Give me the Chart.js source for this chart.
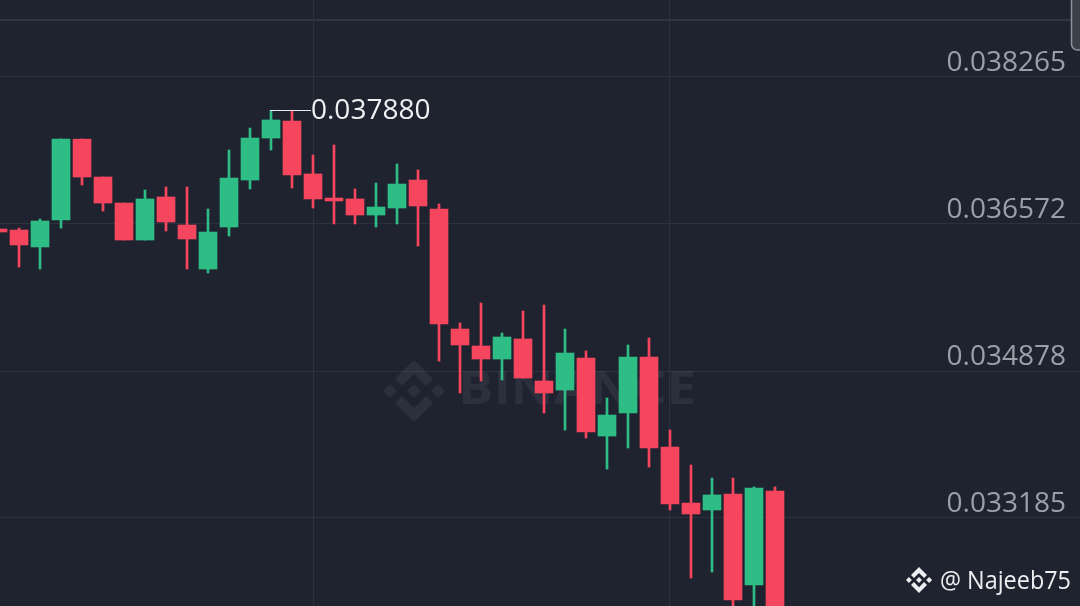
<!DOCTYPE html>
<html><head><meta charset="utf-8">
<script src="https://cdn.jsdelivr.net/npm/chart.js@4.4.1/dist/chart.umd.min.js"></script>
<style>html,body{margin:0;padding:0;background:#1f2330;}#wrap{width:1080px;height:606px;position:relative;}</style>
</head><body><div id="wrap"><canvas id="c"></canvas></div>
<script>
// ---- data ----
const candleIndex = [-1,0,1,2,3,4,5,6,7,8,9,10,11,12,13,14,15,16,17,18,19,20,21,22,23,24,25,26,27,28,29,30,31,32,33,34,35,36];
const openPrices  = [0.036514,0.036502,0.036307,0.036618,0.037549,0.037113,0.036813,0.036387,0.036883,0.036560,0.036053,0.036537,0.037078,0.037562,0.037758,0.037148,0.036871,0.036860,0.036675,0.036756,0.037078,0.036744,0.035362,0.035166,0.035016,0.035247,0.034763,0.034659,0.035028,0.034129,0.034394,0.035039,0.034003,0.033357,0.033277,0.033461,0.032413,0.033496];
const highPrices  = [0.036525,0.036525,0.036629,0.037551,0.037551,0.037113,0.036813,0.036963,0.036998,0.036998,0.036744,0.037424,0.037677,0.037880,0.037870,0.037366,0.037482,0.036975,0.037044,0.037263,0.037194,0.036802,0.035431,0.035661,0.035316,0.035569,0.035638,0.035362,0.035109,0.034567,0.035178,0.035258,0.034198,0.033795,0.033645,0.033645,0.033542,0.033542];
const lowPrices   = [0.036468,0.036076,0.036053,0.036525,0.037021,0.036721,0.036387,0.036387,0.036491,0.036053,0.036007,0.036433,0.036975,0.037424,0.036986,0.036756,0.036572,0.036572,0.036537,0.036572,0.036318,0.034993,0.034625,0.034763,0.034774,0.034797,0.034394,0.034198,0.034106,0.033749,0.033991,0.033772,0.033277,0.032493,0.032563,0.032125,0.032067,0.031894];
const closePrices = [0.036479,0.036330,0.036606,0.037551,0.037113,0.036813,0.036387,0.036860,0.036595,0.036399,0.036479,0.037101,0.037562,0.037770,0.037136,0.036860,0.036837,0.036675,0.036767,0.037032,0.036779,0.035420,0.035178,0.035016,0.035270,0.034797,0.034625,0.035085,0.034175,0.034371,0.035039,0.033991,0.033346,0.033231,0.033450,0.032240,0.033530,0.031952];
const priceTicks = [0.038265, 0.036572, 0.034878, 0.033185];
const timeGridAt = [14, 31];
const watermarkText = 'BINANCE';
const creditText = '@ Najeeb75';

const UP = '#2ebd85', DOWN = '#f6465d', GRID = '#2c313c';
const colors = openPrices.map((o,i)=> closePrices[i] >= o ? UP : DOWN);
const bodies = candleIndex.map((x,i)=>({x, y:[openPrices[i], closePrices[i]]}));
const wicks = candleIndex.map((x,i)=>({x, y:[lowPrices[i], highPrices[i]]}));

const LOGO = 'M38.73 53.2l24.59-24.58 24.6 24.6 14.3-14.31L63.32 0 24.43 38.9l14.3 14.3zM0 63.31l14.3-14.31 14.31 14.31-14.31 14.3L0 63.31zm38.73 10.11l24.59 24.59 24.6-24.6 14.31 14.29-38.9 38.91-38.91-38.88-.02-.02 14.33-14.29zm59.57-10.1l14.3-14.31 14.31 14.31-14.31 14.3-14.3-14.3zM77.83 63.3L63.32 48.78 52.59 59.51l-1.24 1.23-2.54 2.54-.02.02.02.03 14.51 14.5 14.51-14.52.01-.01-.01-.01z';
function drawLogo(ctx, x, y, size){
  ctx.save(); ctx.translate(x,y); const s=size/126.61; ctx.scale(s,s);
  ctx.fill(new Path2D(LOGO)); ctx.restore();
}
function fitText(ctx, text, x, y, width){
  const w=ctx.measureText(text).width;
  ctx.save(); ctx.translate(x,y); ctx.scale(width/w,1); ctx.fillText(text,0,0); ctx.restore();
}

const deco = {
  id:'deco',
  beforeDraw(chart){
    const ctx=chart.ctx; ctx.save(); ctx.fillStyle='#1f2330'; ctx.fillRect(0,0,chart.width,chart.height); ctx.restore();
  },
  beforeDatasetsDraw(chart){
    const ctx=chart.ctx; ctx.save();
    ctx.fillStyle='rgba(255,255,255,0.06)';
    drawLogo(ctx,383,360,62);
    ctx.font='bold 46px "Open Sans"'; ctx.textBaseline='middle'; ctx.textAlign='left';
    fitText(ctx, watermarkText, 458, 391, 238);
    ctx.restore();
  },
  afterDraw(chart){
    const ctx=chart.ctx, xs=chart.scales.x, ys=chart.scales.y;
    ctx.save();
    // top separator
    ctx.fillStyle='#30353f'; ctx.fillRect(0,19,chart.width,2);
    // high marker
    let mi=0; highPrices.forEach((h,i)=>{ if(h>highPrices[mi]) mi=i; });
    const hx=Math.round(xs.getPixelForValue(candleIndex[mi])), hy=Math.round(ys.getPixelForValue(highPrices[mi]))+0.5;
    ctx.strokeStyle='#e8eaed'; ctx.lineWidth=1;
    ctx.beginPath(); ctx.moveTo(hx-1,hy); ctx.lineTo(hx+40,hy); ctx.stroke();
    ctx.fillStyle='#eef0f2'; ctx.font='28px "Open Sans"'; ctx.textBaseline='middle'; ctx.textAlign='left';
    ctx.fillText(highPrices[mi].toFixed(6), hx+40, hy+1);
    // scrollbar nub
    ctx.beginPath(); ctx.roundRect(1071.5,-10,14,60,6); ctx.fillStyle='#3b404a'; ctx.fill();
    ctx.strokeStyle='#8e939b'; ctx.lineWidth=1.5; ctx.stroke();
    // credit
    ctx.fillStyle='#eceef0';
    drawLogo(ctx,906,567,26);
    ctx.font='25px "Open Sans"'; ctx.textBaseline='alphabetic'; ctx.textAlign='left';
    fitText(ctx, creditText, 940, 589, 131);
    ctx.restore();
  }
};

Chart.defaults.font.family='"Open Sans"';
new Chart(document.getElementById('c'),{
  type:'bar',
  data:{datasets:[
    {label:'body', data:bodies, backgroundColor:colors, borderWidth:0, barThickness:18, minBarLength:2, grouped:false},
    {label:'wick', data:wicks, backgroundColor:colors, borderWidth:0, barThickness:2, grouped:false}
  ]},
  options:{
    responsive:true, maintainAspectRatio:false, animation:false,
    layout:{padding:0},
    plugins:{legend:{display:false}, tooltip:{enabled:false}},
    scales:{
      x:{type:'linear', min:-0.905, max:50.524, offset:false,
        afterBuildTicks(s){ s.ticks = timeGridAt.map(v=>({value:v})); },
        afterFit(s){ s.height=0; s.paddingLeft=0; s.paddingRight=0; },
        ticks:{display:false}, grid:{color:GRID, lineWidth:1, drawTicks:false, offset:false}, border:{display:false}},
      y:{type:'linear', position:'right', min:0.032171, max:0.039152,
        afterBuildTicks(s){ s.ticks = priceTicks.map(v=>({value:v})); },
        afterFit(s){ s.width=0; s.paddingTop=0; s.paddingBottom=0; },
        ticks:{mirror:true, padding:-14, labelOffset:-14, color:'#9aa0a8', font:{size:28},
          callback:(v)=>Number(v).toFixed(6)},
        grid:{color:GRID, lineWidth:1, drawTicks:false}, border:{display:false}}
    }
  },
  plugins:[deco]
});
</script></body></html>
